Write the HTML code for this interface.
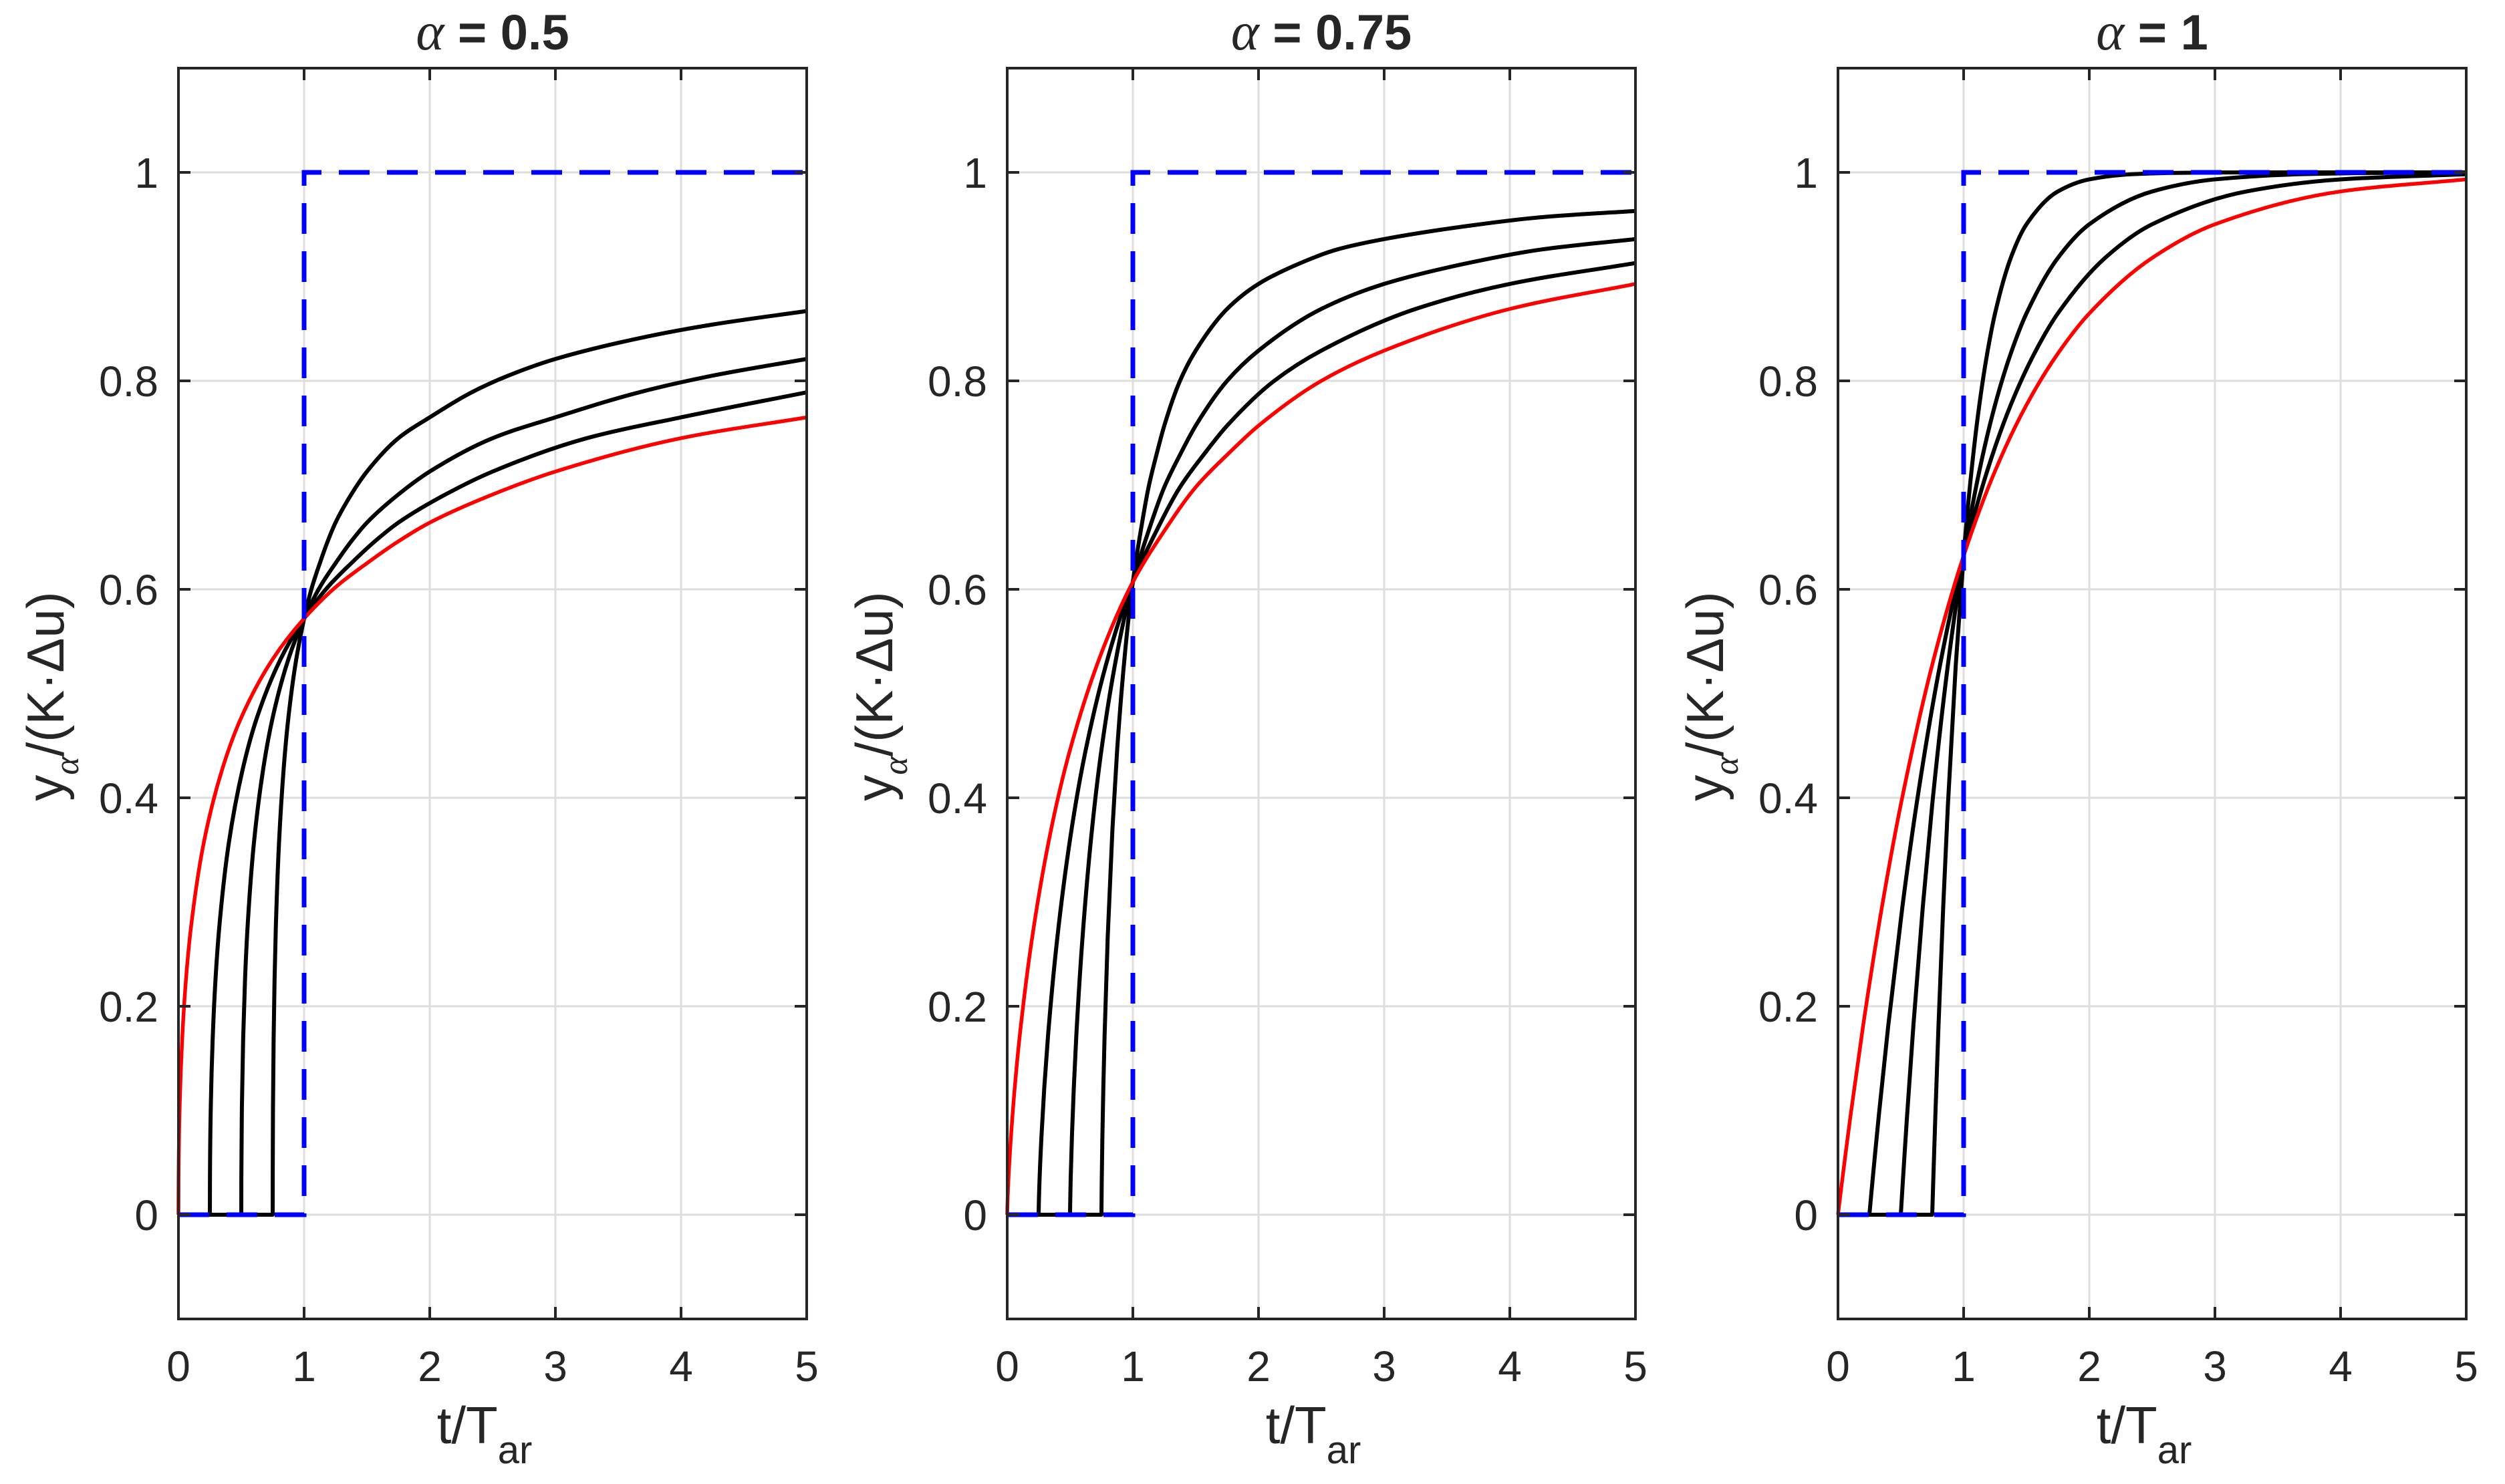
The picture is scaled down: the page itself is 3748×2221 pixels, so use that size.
<!DOCTYPE html>
<html>
<head>
<meta charset="utf-8">
<style>
  html, body { margin: 0; padding: 0; background: #ffffff; }
  svg { display: block; }
  text { font-family: "Liberation Sans", "DejaVu Sans", sans-serif; fill: #262626; }
</style>
</head>
<body>
<svg id="fig" width="3748" height="2221" viewBox="0 0 3748 2221" xmlns="http://www.w3.org/2000/svg"></svg>
<script>
// ---------------- data ----------------
const panelTitles = ["0.5", "0.75", "1"];
const xTicks = [0, 1, 2, 3, 4, 5];
const xTickLabels = ["0", "1", "2", "3", "4", "5"];
const yTicks = [0, 0.2, 0.4, 0.6, 0.8, 1];
const yTickLabels = ["0", "0.2", "0.4", "0.6", "0.8", "1"];

// time samples per series (t/Tar)
const tRed = [0, 0.001, 0.01, 0.03, 0.06, 0.1, 0.2, 0.35, 0.5, 0.75, 1, 1.25, 1.5, 1.75, 2, 2.5, 3, 4, 5];
const tD25 = [0, 0.25, 0.25075, 0.2575, 0.2725, 0.295, 0.325, 0.4, 0.5125, 0.625, 0.8125, 1, 1.1875, 1.375, 1.5625, 1.75, 2.125, 2.5, 3.25, 4, 5];
const tD50 = [0, 0.5, 0.5005, 0.505, 0.515, 0.53, 0.55, 0.6, 0.675, 0.75, 0.875, 1, 1.125, 1.25, 1.375, 1.5, 1.75, 2, 2.5, 3, 3.6667, 4.25, 5];
const tD75 = [0, 0.75, 0.75025, 0.7525, 0.7575, 0.765, 0.775, 0.8, 0.8375, 0.875, 0.9375, 1, 1.0625, 1.125, 1.1875, 1.25, 1.375, 1.5, 1.75, 2, 2.3333, 2.625, 3, 3.75, 4.25, 5];

// alpha = 0.5
const a05Red = [0, 0.035, 0.104, 0.169, 0.226, 0.276, 0.356, 0.428, 0.477, 0.533, 0.572, 0.602, 0.625, 0.646, 0.664, 0.691, 0.713, 0.745, 0.765];
const a05D25 = [0, 0, 0.035, 0.104, 0.169, 0.226, 0.276, 0.356, 0.428, 0.477, 0.533, 0.572, 0.602, 0.625, 0.646, 0.664, 0.691, 0.713, 0.745, 0.765, 0.789];
const a05D50 = [0, 0, 0.035, 0.104, 0.169, 0.226, 0.276, 0.356, 0.428, 0.477, 0.533, 0.572, 0.602, 0.625, 0.646, 0.664, 0.691, 0.713, 0.745, 0.765, 0.789, 0.805, 0.821];
const a05D75 = [0, 0, 0.035, 0.104, 0.169, 0.226, 0.276, 0.356, 0.428, 0.477, 0.533, 0.572, 0.602, 0.625, 0.646, 0.664, 0.691, 0.713, 0.745, 0.765, 0.789, 0.805, 0.821, 0.843, 0.854, 0.867];
// alpha = 0.75
const a075Red = [0, 0.0061, 0.034, 0.075, 0.122, 0.172, 0.267, 0.370, 0.446, 0.539, 0.607, 0.656, 0.698, 0.729, 0.757, 0.800, 0.829, 0.869, 0.893];
const a075D25 = [0, 0, 0.0061, 0.034, 0.075, 0.122, 0.172, 0.267, 0.370, 0.446, 0.539, 0.607, 0.656, 0.698, 0.729, 0.757, 0.800, 0.829, 0.869, 0.893, 0.913];
const a075D50 = [0, 0, 0.0061, 0.034, 0.075, 0.122, 0.172, 0.267, 0.370, 0.446, 0.539, 0.607, 0.656, 0.698, 0.729, 0.757, 0.800, 0.829, 0.869, 0.893, 0.913, 0.926, 0.936];
const a075D75 = [0, 0, 0.0061, 0.034, 0.075, 0.122, 0.172, 0.267, 0.370, 0.446, 0.539, 0.607, 0.656, 0.698, 0.729, 0.757, 0.800, 0.829, 0.869, 0.893, 0.913, 0.926, 0.936, 0.950, 0.957, 0.963];
// alpha = 1
const a1Red = [0, 0.001, 0.00995, 0.0296, 0.0582, 0.0952, 0.1813, 0.2953, 0.3935, 0.5276, 0.6321, 0.7135, 0.7769, 0.8262, 0.8647, 0.9179, 0.9502, 0.9817, 0.9933];
const a1D25 = [0, 0, 0.001, 0.00995, 0.0296, 0.0582, 0.0952, 0.1813, 0.2953, 0.3935, 0.5276, 0.6321, 0.7135, 0.7769, 0.8262, 0.8647, 0.9179, 0.9502, 0.9817, 0.9933, 0.9982];
const a1D50 = [0, 0, 0.001, 0.00995, 0.0296, 0.0582, 0.0952, 0.1813, 0.2953, 0.3935, 0.5276, 0.6321, 0.7135, 0.7769, 0.8262, 0.8647, 0.9179, 0.9502, 0.9817, 0.9933, 0.9982, 0.99945, 0.9999];
const a1D75 = [0, 0, 0.001, 0.00995, 0.0296, 0.0582, 0.0952, 0.1813, 0.2953, 0.3935, 0.5276, 0.6321, 0.7135, 0.7769, 0.8262, 0.8647, 0.9179, 0.9502, 0.9817, 0.9933, 0.9982, 0.99945, 0.9999, 1, 1, 1];

// step input (blue dashed)
const stepT = [0, 1, 1, 5];
const stepY = [0, 0, 1, 1];

const panelSeries = [
  { red: a05Red, d25: a05D25, d50: a05D50, d75: a05D75 },
  { red: a075Red, d25: a075D25, d50: a075D50, d75: a075D75 },
  { red: a1Red, d25: a1D25, d50: a1D50, d75: a1D75 }
];

// ---------------- layout ----------------
const NS = "http://www.w3.org/2000/svg";
const svg = document.getElementById("fig");
const panelLeft = [267, 1507, 2750];
const plotW = 940, plotTop = 102, plotBottom = 1974;
const xMin = 0, xMax = 5, yMin = -0.1, yMax = 1.1;

function mk(tag, attrs, parent) {
  const e = document.createElementNS(NS, tag);
  for (const k in attrs) e.setAttribute(k, attrs[k]);
  (parent || svg).appendChild(e);
  return e;
}

function monotonePath(px, py) {
  const n = px.length;
  if (n < 2) return "";
  const dx = [], dy = [], m = [];
  for (let i = 0; i < n - 1; i++) {
    dx.push(px[i + 1] - px[i]); dy.push(py[i + 1] - py[i]);
    m.push(dx[i] === 0 ? 0 : dy[i] / dx[i]);
  }
  const tan = new Array(n);
  tan[0] = m[0]; tan[n - 1] = m[n - 2];
  for (let i = 1; i < n - 1; i++) {
    if (m[i - 1] * m[i] <= 0) tan[i] = 0;
    else {
      const w1 = 2 * dx[i] + dx[i - 1], w2 = dx[i] + 2 * dx[i - 1];
      tan[i] = (w1 + w2) / (w1 / m[i - 1] + w2 / m[i]);
    }
  }
  let d = "M" + px[0].toFixed(2) + "," + py[0].toFixed(2);
  for (let i = 0; i < n - 1; i++) {
    const h = dx[i] / 3;
    d += " C" + (px[i] + h).toFixed(2) + "," + (py[i] + tan[i] * h).toFixed(2) + " " +
         (px[i + 1] - h).toFixed(2) + "," + (py[i + 1] - tan[i + 1] * h).toFixed(2) + " " +
         px[i + 1].toFixed(2) + "," + py[i + 1].toFixed(2);
  }
  return d;
}

for (let p = 0; p < 3; p++) {
  const L = panelLeft[p];
  const xs = v => L + (v - xMin) / (xMax - xMin) * plotW;
  const ys = v => plotBottom - (v - yMin) / (yMax - yMin) * (plotBottom - plotTop);
  const g = mk("g", {});
  
  

  const bg = mk("rect", { x: L, y: plotTop, width: plotW, height: plotBottom - plotTop, fill: "#ffffff" }, g);
  
  

  xTicks.forEach(v => {
    const gl = mk("line", { x1: xs(v), x2: xs(v), y1: plotTop, y2: plotBottom, stroke: "#dedede", "stroke-width": 3 }, g);
    
    
  });
  yTicks.forEach(v => {
    const gl = mk("line", { x1: L, x2: L + plotW, y1: ys(v), y2: ys(v), stroke: "#dedede", "stroke-width": 3 }, g);
    
    
  });

  const S = panelSeries[p];
  const blacks = [[tD25, S.d25], [tD50, S.d50], [tD75, S.d75]];
  blacks.forEach((pair, i) => {
    const path = mk("path", { d: monotonePath(pair[0].map(xs), pair[1].map(ys)), fill: "none", stroke: "#000000", "stroke-width": 6, "stroke-linejoin": "round" }, g);
    
    
  });
  const red = mk("path", { d: monotonePath(tRed.map(xs), S.red.map(ys)), fill: "none", stroke: "#ff0000", "stroke-width": 5.5, "stroke-linejoin": "round" }, g);
  
  

  let sd = "";
  for (let i = 0; i < stepT.length; i++) sd += (i ? " L" : "M") + xs(stepT[i]).toFixed(2) + "," + ys(stepY[i]).toFixed(2);
  const step = mk("path", { d: sd, fill: "none", stroke: "#0000ff", "stroke-width": 7, "stroke-dasharray": "46 26" }, g);
  
  

  const box = mk("rect", { x: L, y: plotTop, width: plotW, height: plotBottom - plotTop, fill: "none", stroke: "#262626", "stroke-width": 4 }, g);
  
  

  xTicks.forEach((v, i) => {
    const t1 = mk("line", { x1: xs(v), x2: xs(v), y1: plotBottom, y2: plotBottom - 18, stroke: "#262626", "stroke-width": 4 }, g);
    
    
    const t2 = mk("line", { x1: xs(v), x2: xs(v), y1: plotTop, y2: plotTop + 18, stroke: "#262626", "stroke-width": 4 }, g);
    
    
    const tl = mk("text", { x: xs(v), y: 2067, "font-size": 64, "text-anchor": "middle" }, g);
    tl.textContent = xTickLabels[i];
    
    
  });
  yTicks.forEach((v, i) => {
    const t1 = mk("line", { x1: L, x2: L + 18, y1: ys(v), y2: ys(v), stroke: "#262626", "stroke-width": 4 }, g);
    
    
    const t2 = mk("line", { x1: L + plotW, x2: L + plotW - 18, y1: ys(v), y2: ys(v), stroke: "#262626", "stroke-width": 4 }, g);
    
    
    const tl = mk("text", { x: L - 30, y: ys(v) + 23, "font-size": 64, "text-anchor": "end" }, g);
    tl.textContent = yTickLabels[i];
    
    
  });

  const title = mk("text", { x: L + plotW / 2, y: 74, "font-size": 74, "font-weight": "bold", "text-anchor": "middle" }, g);
  
  
  const ta = mk("tspan", { "font-family": "Liberation Serif, serif", "font-style": "italic", "font-weight": "normal", "font-size": 80 }, title);
  ta.textContent = "α";
  const tb = mk("tspan", {}, title);
  tb.textContent = " = " + panelTitles[p];

  const xl = mk("text", { x: L + plotW / 2 - 12, y: 2160, "font-size": 78, "text-anchor": "middle" }, g);
  
  
  const x1 = mk("tspan", {}, xl); x1.textContent = "t/T";
  const x2 = mk("tspan", { "font-size": 58, dy: 30 }, xl); x2.textContent = "ar";

  const yl = mk("text", { x: 0, y: 0, "font-size": 78, "text-anchor": "middle", transform: "translate(" + (L - 172) + ",1042) rotate(-90)" }, g);
  
  
  const y1 = mk("tspan", {}, yl); y1.textContent = "y";
  const y2 = mk("tspan", { "font-size": 52, dy: 22, "font-family": "Liberation Serif, serif", "font-style": "italic" }, yl); y2.textContent = "α";
  const y3 = mk("tspan", { dy: -22 }, yl); y3.textContent = "/(K·Δu)";
}
</script>
</body>
</html>
